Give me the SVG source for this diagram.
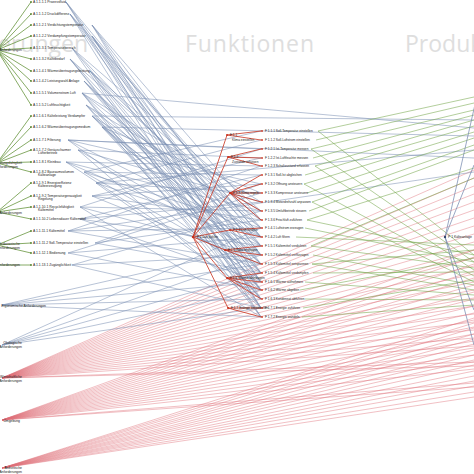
<svg xmlns="http://www.w3.org/2000/svg" width="474" height="474" viewBox="0 0 474 474">
<style>
.title{font-family:"Open Sans","DejaVu Sans",sans-serif;font-size:23px;fill:#dedede}
.lbl{font-family:"Liberation Sans",Arial,sans-serif;font-size:3.4px;fill:#222}
.lblc{font-family:"Liberation Sans",Arial,sans-serif;font-size:3.2px;fill:#222}
.red{stroke:#df6f77;stroke-width:0.55;fill:none;opacity:0.8}
.blue{stroke:#7a8fb2;stroke-width:0.6;fill:none;opacity:0.9}
.green{stroke:#72a346;stroke-width:0.6;fill:none;opacity:0.9}
.gtree{stroke:#5f8f33;stroke-width:0.75;fill:none}
.rtree{stroke:#c8321e;stroke-width:0.8;fill:none}
.ptree{stroke:#6f82aa;stroke-width:0.7;fill:none}
.gdot{fill:#4f7f2a}
.rdot{fill:#c8321e}
</style>
<rect width="474" height="474" fill="#ffffff"/>
<g id="titles">
<text class="title" x="88" y="52" text-anchor="end">Anforderungen</text>
<text class="title" x="185" y="52" textLength="129">Funktionen</text>
<text class="title" x="405" y="52">Produkte</text>
</g>
<g id="connectors">
<path class="red" d="M2 378L474 170M2 378L474 178M2 378L474 186M2 378L474 194M2 378L474 202M2 378L474 210M2 378L474 218M2 378L474 226M2 378L474 234M2 378L474 242M2 378L474 250M2 378L474 258M2 378L474 266M2 378L474 274M2 378L474 282M2 378L474 290M2 378L474 298M2 378L474 306M2 378L474 314M2 378L474 322M2 378L474 330M2 378L474 338M2 378L474 346M2 378L474 362M2 378L474 366"/>
<path class="red" d="M2 420L474 250M2 420L474 257M2 420L474 264M2 420L474 271M2 420L474 278M2 420L474 285M2 420L474 292M2 420L474 299M2 420L474 306M2 420L474 313M2 420L474 320M2 420L474 327M2 420L474 334M2 420L474 341M2 420L474 348M2 420L474 355M2 420L474 362M2 420L474 369M2 420L474 383M2 420L474 387"/>
<path class="red" d="M2 468L474 318M2 468L474 323M2 468L474 328M2 468L474 334M2 468L474 339M2 468L474 344M2 468L474 350M2 468L474 355M2 468L474 360M2 468L474 365M2 468L474 371M2 468L474 376M2 468L474 381M2 468L474 386M2 468L474 392M2 468L474 397"/>
<path class="blue" d="M66 2L261 237M66 2L261 264M66 2L261 290M66 2L261 308
M70 14L261 228M70 14L261 255M70 14L261 282M70 14L261 317
M92 25L261 220M92 25L261 246M92 25L261 273M92 25L261 299
M92 36L261 237M92 36L261 255M92 36L261 282M92 36L261 308
M72 48L261 211M72 48L261 246M72 48L261 273M72 48L261 317
M70 59L261 228M70 59L261 264M70 59L261 290M70 59L261 299
M90 71L261 220M90 71L261 237M90 71L261 282M90 71L261 308
M84 81L261 246M84 81L261 255M84 81L261 273M84 81L261 290
M82 93L261 202M82 93L261 228M82 93L261 264M82 93L261 299M82 93L261 317
M86 105L261 211M86 105L261 237M86 105L261 282M86 105L261 308
M92 116L261 220M92 116L261 255M92 116L261 273M92 116L261 290
M102 127L261 193M102 127L261 246M102 127L261 264M102 127L261 299
M68 140L261 149M68 140L261 184M68 140L261 237M68 140L261 282
M78 150L261 158M78 150L261 202M78 150L261 255M78 150L261 308
M66 162L261 166M66 162L261 211M66 162L261 246M66 162L261 290
M84 172L261 131M84 172L261 175M84 172L261 228M84 172L261 273
M96 183L261 140M96 183L261 193M96 183L261 237M96 183L261 299
M92 196L261 158M92 196L261 184M92 196L261 220M92 196L261 264
M80 207L261 149M80 207L261 211M80 207L261 255M80 207L261 317
M80 219L261 175M80 219L261 202M80 219L261 246M80 219L261 282
M68 231L261 166M68 231L261 228M68 231L261 264
M95 243L261 184M95 243L261 220M95 243L261 273
M68 253L261 193M68 253L261 237M68 253L261 290
M72 265L261 211M72 265L261 255M72 265L261 308
M82 93L474 128M92 116L474 120M102 127L474 136M68 140L474 158M96 183L474 150M68 231L474 172
M2 305L261 246M2 305L261 264M2 305L261 282M2 305L261 299M2 305L261 317
M2 345L261 228M2 345L261 255M2 345L261 273M2 345L261 290M2 345L261 308"/>
<path class="green" d="M318 131L474 97M318 131L474 255M316 140L474 103M311 149L474 110M311 149L474 262M313 158L474 115M315 166L474 120M315 166L474 270M305 175L474 126M304 184L474 132M304 184L474 276M307 193L474 138M312 202L474 145M312 202L474 282M309 211L474 150M307 220L474 168M307 220L474 255M305 228L474 262M296 237L474 245M311 246L474 268M311 246L474 178M313 255L474 285M312 264L474 250M312 264L474 290M313 273L474 272M305 282L474 295M300 290L474 258M305 299L474 300M303 308L474 280M302 317L474 305"/>
<path class="gtree" d="M-3 50L31 2M-3 50L31 14M-3 50L31 25M-3 50L31 36M-3 50L31 48M-3 50L31 59M-3 50L31 71M-3 50L31 81M-3 50L31 93M-3 50L31 105
M-3 163L31 116M-3 163L31 127M-3 163L31 140M-3 163L31 150M-3 163L31 162M-3 163L31 172
M-3 212L31 183M-3 212L31 196M-3 212L31 207M-3 212L31 219
M-3 245L31 231M-3 245L31 243M-3 245L31 253M-3 265L31 265"/>
<path class="rtree" d="M193 237L227 135M193 237L228 157M193 237L230 193M193 237L230 230M193 237L225 250M193 237L227 278M193 237L228 308
M227 135L261 131M227 135L261 140
M228 157L261 149M228 157L261 158M228 157L261 166
M230 193L261 175M230 193L261 184M230 193L261 193M230 193L261 202M230 193L261 211M230 193L261 220
M230 230L261 228M230 230L261 237
M225 250L261 246M225 250L261 255M225 250L261 264
M227 278L261 273M227 278L261 282M227 278L261 290M227 278L261 299
M228 308L261 308M228 308L261 317"/>
<path class="ptree" d="M445 237L476 100M445 237L474 165M445 237L474 310M445 237L474 345"/>
</g>
<g id="req-categories" class="lbl">
<text x="22" y="51" text-anchor="end">Funktionale Anforderungen</text>
<text x="22" y="164" text-anchor="end">Leistungsfähigkeit</text>
<text x="18" y="168" text-anchor="end">Anforderungen</text>
<text x="22" y="214" text-anchor="end">Energetische Anforderungen</text>
<text x="20" y="245" text-anchor="end">Bedienerische</text>
<text x="20" y="249" text-anchor="end">Anforderungen</text>
<text x="20" y="266" text-anchor="end">Sicherheitstechnische Anforderungen</text>
<text x="46" y="307" text-anchor="end">Ergonomische Anforderungen</text>
<text x="22" y="344" text-anchor="end">Ökologische</text>
<text x="22" y="348" text-anchor="end">Anforderungen</text>
<text x="22" y="378" text-anchor="end">Wirtschaftliche</text>
<text x="22" y="382" text-anchor="end">Anforderungen</text>
<text x="20" y="422" text-anchor="end">Umgebung</text>
<text x="22" y="469" text-anchor="end">Ästhetische</text>
<text x="22" y="473" text-anchor="end">Anforderungen</text>
</g>
<g id="requirements" class="lbl">
<circle class="gdot" cx="31" cy="2" r="0.9"/><text x="33" y="3.2">A 1.1.1.1 Prozessfluid</text>
<circle class="gdot" cx="31" cy="14" r="0.9"/><text x="33" y="15.2">A 1.1.1.2 Druckdifferenz</text>
<circle class="gdot" cx="31" cy="25" r="0.9"/><text x="33" y="26.2">A 1.1.2.1 Verdichtungstemperatur</text>
<circle class="gdot" cx="31" cy="36" r="0.9"/><text x="33" y="37.2">A 1.1.2.2 Verdampfungstemperatur</text>
<circle class="gdot" cx="31" cy="48" r="0.9"/><text x="33" y="49.2">A 1.1.3.1 Temperaturbereich</text>
<circle class="gdot" cx="31" cy="59" r="0.9"/><text x="33" y="60.2">A 1.1.3.2 Kältebedarf</text>
<circle class="gdot" cx="31" cy="71" r="0.9"/><text x="33" y="72.2">A 1.1.4.1 Wärmeübertragungsleistung</text>
<circle class="gdot" cx="31" cy="81" r="0.9"/><text x="33" y="82.2">A 1.1.4.2 Leistungszahl Anlage</text>
<circle class="gdot" cx="31" cy="93" r="0.9"/><text x="33" y="94.2">A 1.1.5.1 Volumenstrom Luft</text>
<circle class="gdot" cx="31" cy="105" r="0.9"/><text x="33" y="106.2">A 1.1.5.2 Luftfeuchtigkeit</text>
<circle class="gdot" cx="31" cy="116" r="0.9"/><text x="33" y="117.2">A 1.1.6.1 Kälteleistung Verdampfer</text>
<circle class="gdot" cx="31" cy="127" r="0.9"/><text x="33" y="128.2">A 1.1.6.2 Wärmeübertragungsmedium</text>
<circle class="gdot" cx="31" cy="140" r="0.9"/><text x="33" y="141.2">A 1.1.7.1 Filterung</text>
<circle class="gdot" cx="31" cy="150" r="0.9"/><text x="33" y="150.5">A 1.1.7.2 Geräuscharmer</text><text x="38" y="154">Lüfterbetrieb</text>
<circle class="gdot" cx="31" cy="162" r="0.9"/><text x="33" y="163.2">A 1.1.8.1 Kleinbau</text>
<circle class="gdot" cx="31" cy="172" r="0.9"/><text x="33" y="172.5">A 1.1.8.2 Bauraumvolumen</text><text x="38" y="176">Kälteanlage</text>
<circle class="gdot" cx="31" cy="183" r="0.9"/><text x="33" y="183.5">A 1.1.9.1 Energieeffizienz</text><text x="38" y="187">Kälteerzeugung</text>
<circle class="gdot" cx="31" cy="196" r="0.9"/><text x="33" y="196.5">A 1.1.9.2 Temperaturgenauigkeit</text><text x="38" y="200">Regelung</text>
<circle class="gdot" cx="31" cy="207" r="0.9"/><text x="33" y="207.5">A 1.1.10.1 Recyclefähigkeit</text><text x="38" y="211">Kältemittel</text>
<circle class="gdot" cx="31" cy="219" r="0.9"/><text x="33" y="220.2">A 1.1.10.2 Lebensdauer Kältemittel</text>
<circle class="gdot" cx="31" cy="231" r="0.9"/><text x="33" y="232.2">A 1.1.11.1 Kältemittel</text>
<circle class="gdot" cx="31" cy="243" r="0.9"/><text x="33" y="244.2">A 1.1.11.2 Soll-Temperatur einstellen</text>
<circle class="gdot" cx="31" cy="253" r="0.9"/><text x="33" y="254.2">A 1.1.12.1 Bedienung</text>
<circle class="gdot" cx="31" cy="265" r="0.9"/><text x="33" y="266.2">A 1.1.13.1 Zugänglichkeit</text>
</g>
<g id="functions-groups" class="lblc">
<circle class="rdot" cx="193" cy="237" r="1.2"/><text x="197" y="238.2">F 1 Luft kühlen</text>
<circle class="rdot" cx="227" cy="135" r="1"/><text x="230" y="136">F 1.1</text><text x="232" y="141">Klima einstellen</text>
<circle class="rdot" cx="228" cy="157" r="1"/><text x="231" y="158">F 1.2</text><text x="232" y="163">Zustände erfassen</text>
<circle class="rdot" cx="230" cy="193" r="1"/><text x="233" y="194">F 1.3 Klima regeln</text>
<circle class="rdot" cx="230" cy="230" r="1"/><text x="233" y="231">F 1.4 Luft fördern</text>
<circle class="rdot" cx="225" cy="250" r="1"/><text x="228" y="251">F 1.5 Kälte erzeugen</text>
<circle class="rdot" cx="227" cy="278" r="1"/><text x="230" y="279">F 1.6 Wärme übertragen</text>
<circle class="rdot" cx="228" cy="308" r="1"/><text x="231" y="309">F 1.7 Energie bereitstellen</text>
</g>
<g id="functions" class="lblc">
<circle class="rdot" cx="262" cy="131" r="0.9"/><text x="265" y="132.1">F 1.1.1 Soll-Temperatur einstellen</text>
<circle class="rdot" cx="262" cy="140" r="0.9"/><text x="265" y="141.1">F 1.1.2 Soll-Luftstrom einstellen</text>
<circle class="rdot" cx="262" cy="149" r="0.9"/><text x="265" y="150.1">F 1.2.1 Ist-Temperatur messen</text>
<circle class="rdot" cx="262" cy="158" r="0.9"/><text x="265" y="159.1">F 1.2.2 Ist-Luftfeuchte messen</text>
<circle class="rdot" cx="262" cy="166" r="0.9"/><text x="265" y="167.1">F 1.2.3 Schaltzustand erfassen</text>
<circle class="rdot" cx="262" cy="175" r="0.9"/><text x="265" y="176.1">F 1.3.1 Soll-Ist abgleichen</text>
<circle class="rdot" cx="262" cy="184" r="0.9"/><text x="265" y="185.1">F 1.3.2 Öffnung ansteuern</text>
<circle class="rdot" cx="262" cy="193" r="0.9"/><text x="265" y="194.1">F 1.3.3 Kompressor ansteuern</text>
<circle class="rdot" cx="262" cy="202" r="0.9"/><text x="265" y="203.1">F 1.3.4 Motordrehzahl anpassen</text>
<circle class="rdot" cx="262" cy="211" r="0.9"/><text x="265" y="212.1">F 1.3.5 Umluftbetrieb steuern</text>
<circle class="rdot" cx="262" cy="220" r="0.9"/><text x="265" y="221.1">F 1.3.6 Frischluft zuführen</text>
<circle class="rdot" cx="262" cy="228" r="0.9"/><text x="265" y="229.1">F 1.4.1 Luftstrom erzeugen</text>
<circle class="rdot" cx="262" cy="237" r="0.9"/><text x="265" y="238.1">F 1.4.2 Luft filtern</text>
<circle class="rdot" cx="262" cy="246" r="0.9"/><text x="265" y="247.1">F 1.5.1 Kältemittel verdichten</text>
<circle class="rdot" cx="262" cy="255" r="0.9"/><text x="265" y="256.1">F 1.5.2 Kältemittel verflüssigen</text>
<circle class="rdot" cx="262" cy="264" r="0.9"/><text x="265" y="265.1">F 1.5.3 Kältemittel entspannen</text>
<circle class="rdot" cx="262" cy="273" r="0.9"/><text x="265" y="274.1">F 1.5.4 Kältemittel verdampfen</text>
<circle class="rdot" cx="262" cy="282" r="0.9"/><text x="265" y="283.1">F 1.6.1 Wärme aufnehmen</text>
<circle class="rdot" cx="262" cy="290" r="0.9"/><text x="265" y="291.1">F 1.6.2 Wärme abgeben</text>
<circle class="rdot" cx="262" cy="299" r="0.9"/><text x="265" y="300.1">F 1.6.3 Kondensat abführen</text>
<circle class="rdot" cx="262" cy="308" r="0.9"/><text x="265" y="309.1">F 1.7.1 Energie zuführen</text>
<circle class="rdot" cx="262" cy="317" r="0.9"/><text x="265" y="318.1">F 1.7.2 Energie wandeln</text>
</g>
<g id="product" class="lbl">
<circle cx="445" cy="237" r="1.2" fill="#34466e"/><text x="448" y="238.2">P 1 Kälteanlage</text>
</g>
</svg>
